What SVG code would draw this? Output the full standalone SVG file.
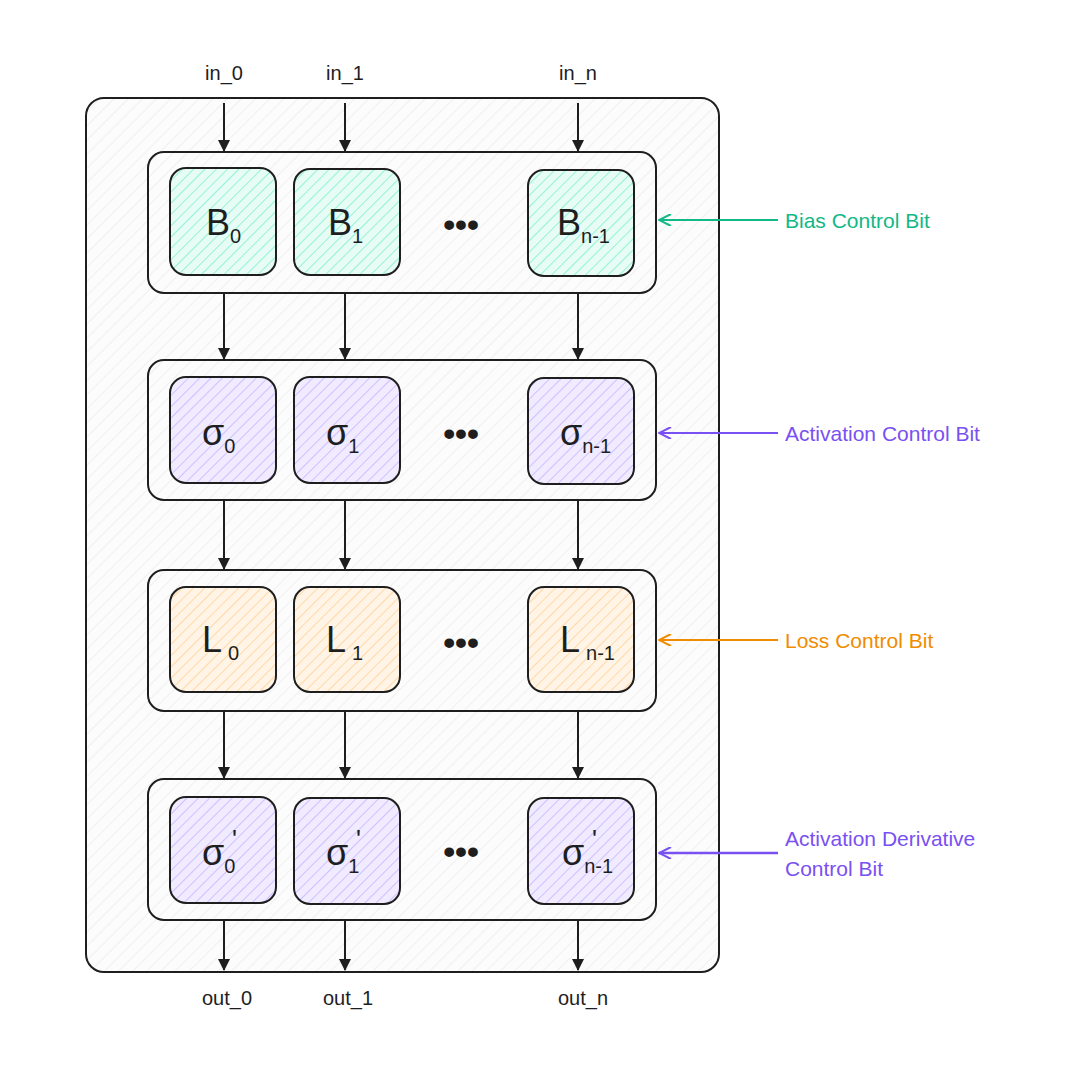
<svg xmlns="http://www.w3.org/2000/svg" width="1080" height="1072" viewBox="0 0 1080 1072">
<defs>
<pattern id="hg" width="8" height="8" patternUnits="userSpaceOnUse" patternTransform="rotate(45)"><rect width="8" height="8" fill="#e6fcf5"/><line x1="0" y1="0" x2="0" y2="8" stroke="#96f2d7" stroke-width="2"/></pattern>
<pattern id="hp" width="8" height="8" patternUnits="userSpaceOnUse" patternTransform="rotate(45)"><rect width="8" height="8" fill="#f0ebff"/><line x1="0" y1="0" x2="0" y2="8" stroke="#d0bfff" stroke-width="2"/></pattern>
<pattern id="ho" width="8" height="8" patternUnits="userSpaceOnUse" patternTransform="rotate(45)"><rect width="8" height="8" fill="#fff4e6"/><line x1="0" y1="0" x2="0" y2="8" stroke="#ffd8a8" stroke-width="2"/></pattern>
<pattern id="hw" width="10" height="10" patternUnits="userSpaceOnUse" patternTransform="rotate(45)"><rect width="10" height="10" fill="#fcfcfc"/><line x1="0" y1="0" x2="0" y2="10" stroke="#ececec" stroke-width="1.5"/></pattern>
<marker id="ak" markerWidth="12" markerHeight="12" refX="11" refY="6" orient="auto" markerUnits="userSpaceOnUse"><path d="M0,0 L12,6 L0,12 Z" fill="#1e1e1e"/></marker>
<marker id="ag" markerWidth="14" markerHeight="12" refX="13" refY="6" orient="auto" markerUnits="userSpaceOnUse"><path d="M1,0 L13,6 L1,12" fill="none" stroke="#12b886" stroke-width="2"/></marker>
<marker id="ap" markerWidth="14" markerHeight="12" refX="13" refY="6" orient="auto" markerUnits="userSpaceOnUse"><path d="M1,0 L13,6 L1,12" fill="none" stroke="#7950f2" stroke-width="2"/></marker>
<marker id="ao" markerWidth="14" markerHeight="12" refX="13" refY="6" orient="auto" markerUnits="userSpaceOnUse"><path d="M1,0 L13,6 L1,12" fill="none" stroke="#f08c00" stroke-width="2"/></marker>
</defs>
<style>
.box{fill:url(#hw);stroke:#1e1e1e;stroke-width:2}
.c{stroke:#1e1e1e;stroke-width:2}
.t{font-family:"Liberation Sans",sans-serif;fill:#1e1e1e}
.io{font-size:20px;text-anchor:middle}
.big{font-size:36px}
.sub{font-size:20px}
.pr{font-size:26px}
.dots{font-size:34px;text-anchor:middle;font-weight:bold}
.lab{font-family:"Liberation Sans",sans-serif;font-size:21px}
.w{stroke:#1e1e1e;stroke-width:2;marker-end:url(#ak)}
</style>
<rect x="0" y="0" width="1080" height="1072" fill="#ffffff"/>
<g id="outer"><rect class="box" x="86" y="98" width="633" height="874" rx="18"/></g>
<g id="row-bias">
<rect class="box" x="148" y="152" width="508" height="141" rx="16"/>
<rect class="c" fill="url(#hg)" x="170" y="168" width="106" height="107" rx="16"/>
<rect class="c" fill="url(#hg)" x="294" y="169" width="106" height="106" rx="16"/>
<rect class="c" fill="url(#hg)" x="528" y="170" width="106" height="106" rx="16"/>
<text class="t big" x="206" y="235">B<tspan class="sub" dy="8">0</tspan></text>
<text class="t big" x="328" y="235">B<tspan class="sub" dy="8">1</tspan></text>
<text class="t dots" x="461" y="236">•••</text>
<text class="t big" x="557" y="235">B<tspan class="sub" dy="8">n-1</tspan></text>
</g>
<g id="row-act">
<rect class="box" x="148" y="360" width="508" height="140" rx="16"/>
<rect class="c" fill="url(#hp)" x="170" y="377" width="106" height="106" rx="16"/>
<rect class="c" fill="url(#hp)" x="294" y="377" width="106" height="106" rx="16"/>
<rect class="c" fill="url(#hp)" x="528" y="378" width="106" height="106" rx="16"/>
<text class="t big" x="202" y="445">σ<tspan class="sub" dy="8">0</tspan></text>
<text class="t big" x="326" y="445">σ<tspan class="sub" dy="8">1</tspan></text>
<text class="t dots" x="461" y="445">•••</text>
<text class="t big" x="560" y="445">σ<tspan class="sub" dy="8">n-1</tspan></text>
</g>
<g id="row-loss">
<rect class="box" x="148" y="570" width="508" height="141" rx="16"/>
<rect class="c" fill="url(#ho)" x="170" y="587" width="106" height="105" rx="16"/>
<rect class="c" fill="url(#ho)" x="294" y="587" width="106" height="105" rx="16"/>
<rect class="c" fill="url(#ho)" x="528" y="587" width="106" height="105" rx="16"/>
<text class="t big" x="202" y="652">L<tspan class="sub" dx="6" dy="8">0</tspan></text>
<text class="t big" x="326" y="652">L<tspan class="sub" dx="6" dy="8">1</tspan></text>
<text class="t dots" x="461" y="654">•••</text>
<text class="t big" x="560" y="652">L<tspan class="sub" dx="6" dy="8">n-1</tspan></text>
</g>
<g id="row-deriv">
<rect class="box" x="148" y="779" width="508" height="141" rx="16"/>
<rect class="c" fill="url(#hp)" x="170" y="797" width="106" height="106" rx="16"/>
<rect class="c" fill="url(#hp)" x="294" y="798" width="106" height="106" rx="16"/>
<rect class="c" fill="url(#hp)" x="528" y="798" width="106" height="106" rx="16"/>
<text class="t big" x="202" y="865">σ<tspan class="sub" dy="8">0</tspan></text>
<text class="t pr" x="232" y="848">'</text>
<text class="t big" x="326" y="865">σ<tspan class="sub" dy="8">1</tspan></text>
<text class="t pr" x="356" y="848">'</text>
<text class="t big" x="562" y="865">σ<tspan class="sub" dy="8">n-1</tspan></text>
<text class="t pr" x="592" y="848">'</text>
<text class="t dots" x="461" y="863">•••</text>
</g>
<g id="io-labels">
<text class="t io" x="224" y="80">in_0</text>
<text class="t io" x="345" y="80">in_1</text>
<text class="t io" x="578" y="80">in_n</text>
<text class="t io" x="227" y="1005">out_0</text>
<text class="t io" x="348" y="1005">out_1</text>
<text class="t io" x="583" y="1005">out_n</text>
</g>
<g id="control-labels">
<text class="lab" x="785" y="228" fill="#12b886">Bias Control Bit</text>
<text class="lab" x="785" y="441" fill="#7950f2">Activation Control Bit</text>
<text class="lab" x="785" y="648" fill="#f08c00">Loss Control Bit</text>
<text class="lab" x="785" y="846" fill="#7950f2">Activation Derivative</text>
<text class="lab" x="785" y="876" fill="#7950f2">Control Bit</text>
</g>
<g id="connectors">
<line class="w" x1="224" y1="103" x2="224" y2="151"/>
<line class="w" x1="345" y1="103" x2="345" y2="151"/>
<line class="w" x1="578" y1="103" x2="578" y2="151"/>
<line class="w" x1="224" y1="293" x2="224" y2="359"/>
<line class="w" x1="345" y1="293" x2="345" y2="359"/>
<line class="w" x1="578" y1="293" x2="578" y2="359"/>
<line class="w" x1="224" y1="500" x2="224" y2="569"/>
<line class="w" x1="345" y1="500" x2="345" y2="569"/>
<line class="w" x1="578" y1="500" x2="578" y2="569"/>
<line class="w" x1="224" y1="711" x2="224" y2="778"/>
<line class="w" x1="345" y1="711" x2="345" y2="778"/>
<line class="w" x1="578" y1="711" x2="578" y2="778"/>
<line class="w" x1="224" y1="920" x2="224" y2="970"/>
<line class="w" x1="345" y1="920" x2="345" y2="970"/>
<line class="w" x1="578" y1="920" x2="578" y2="970"/>
<line x1="778" y1="220" x2="659" y2="220" stroke="#12b886" stroke-width="2" marker-end="url(#ag)"/>
<line x1="778" y1="433" x2="659" y2="433" stroke="#7950f2" stroke-width="2" marker-end="url(#ap)"/>
<line x1="778" y1="640" x2="659" y2="640" stroke="#f08c00" stroke-width="2" marker-end="url(#ao)"/>
<line x1="778" y1="853" x2="659" y2="853" stroke="#7950f2" stroke-width="2.5" marker-end="url(#ap)"/>
</g>
</svg>
